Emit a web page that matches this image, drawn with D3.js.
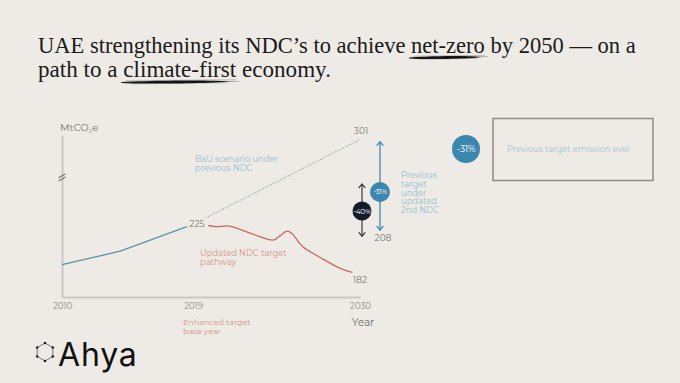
<!DOCTYPE html>
<html>
<head>
<meta charset="utf-8">
<script src="https://cdn.jsdelivr.net/npm/d3@7"></script>
<style>
  html, body { margin: 0; padding: 0; background: #eeebe6; }
  svg { display: block; }
</style>
</head>
<body>
<svg id="chart" width="680" height="383"></svg>
<script>
// ---------- data ----------
const titleLines = ["UAE strengthening its NDC\u2019s to achieve net-zero by 2050 \u2014 on a",
                    "path to a climate-first economy."];
const underlinedWords = ["net-zero", "climate-first"];
const tickYears = [2010, 2019, 2030];
const bauHistYears = [2010, 2014, 2019];
const bauHistValues = [189, 201, 225];
const bauProjYears = [2019, 2030];
const bauProjValues = [225, 301];
const ndcYears = [2020, 2020.5, 2021.4, 2022.4, 2023.4, 2024.3, 2024.7, 2025.2, 2025.5, 2026.2, 2027.6, 2028.7, 2029.5];
const ndcValues = [224, 223, 223.5, 219, 214, 211, 214.5, 219, 217, 205.5, 193.7, 185.6, 182];
const prevArrow = [299, 220];   // previous target arrow extent
const prevBadge = 254;
const newArrow = [261, 214.5];  // updated -40% arrow extent
const newBadge = 237;
const breakValue = 267;
const valueLabels = ["301", "225", "208", "182"];
const badgeLabels = ["-31%", "-40%"];
const legendText = "Previous target emission evel";

// ---------- setup ----------
const svg = d3.select("#chart");
const bg = "#eeebe6";
const blue = "#5b93a9", blueLight = "#93bccd", blueDark = "#3b87ad";
const red = "#c8695f", redLight = "#d6918a";
const navy = "#141c2b";
const axisCol = "#cbc8c3";
const sans = "Montserrat, Inter, 'Open Sans', sans-serif";

const x = d3.scaleLinear().domain([2010, 2019, 2030]).range([62, 193, 360]);
const y = d3.scaleLinear().domain([160, 305]).range([297, 135]);

// ---------- title ----------
const titleWidths = [598, 293];
const titleBase = [52.5, 77];
const titleSize = 23;
titleLines.forEach((txt, li) => {
  const g = svg.append("g").attr("transform", `translate(38,${titleBase[li]})`);
  const t = g.append("text").attr("x", 0).attr("y", 0)
    .attr("font-family", "'Liberation Serif', 'DejaVu Serif', serif").attr("font-size", titleSize)
    .attr("fill", "#1a1a1a").text(txt);
  const nat = t.node().getComputedTextLength();
  const sx = titleWidths[li] / nat;
  t.attr("transform", `scale(${sx},1)`);
  const word = underlinedWords[li];
  const idx = txt.indexOf(word);
  const a = 38 + sx * t.node().getSubStringLength(0, idx);
  const w = sx * t.node().getSubStringLength(idx, word.length);
  brush(a - 2, a + w + 3, titleBase[li] + 4.8);
});

function brush(a, b, yy) {
  const g = svg.append("g");
  const n = 20;
  const top = [], bot = [];
  for (let i = 0; i <= n; i++) {
    const t = i / n;
    const xx = a + (b - a) * t;
    const th = 2.6 * Math.pow(Math.sin(Math.PI * Math.min(1, t * 1.1 + 0.02)), 0.5) + 0.3;
    const c = yy + 0.8 - 1.2 * t;
    top.push([xx, c - th / 2]);
    bot.push([xx, c + th / 2]);
  }
  g.append("path").attr("d", "M" + top.concat(bot.reverse()).join("L") + "Z").attr("fill", "#151515");
  [[-1.6, 0.5, 0.5], [1.5, 0.5, 0.45]].forEach(([dy, sw, op], i) => {
    g.append("path")
      .attr("d", d3.line().curve(d3.curveBasis)([[a + 4 + i * 6, yy + dy + 0.6], [(a + b) / 2, yy + dy], [b - 3 - i * 8, yy + dy - 0.4]]))
      .attr("stroke", "#222").attr("fill", "none").attr("stroke-width", sw).attr("opacity", op);
  });
}

// ---------- axes ----------
const xAxis = d3.axisBottom(x).tickValues(tickYears).tickFormat(d3.format("d")).tickSize(0).tickPadding(6);
const gx = svg.append("g").attr("transform", `translate(0,${y(160)})`).call(xAxis);
gx.select(".domain").attr("stroke", axisCol).attr("stroke-width", 2);
gx.selectAll("text").attr("font-family", sans).attr("font-size", 8.5).attr("fill", "#8a8782");

const yAxis = d3.axisLeft(y).tickValues([]).tickSize(0);
const gy = svg.append("g").attr("transform", `translate(${x(2010)},0)`).call(yAxis);
gy.select(".domain").attr("stroke", axisCol).attr("stroke-width", 2);

// axis break
const by = y(breakValue), bx = x(2010);
[-1.6, 1.6].forEach(d => {
  svg.append("line").attr("x1", bx - 3.5).attr("y1", by + 2 + d).attr("x2", bx + 3.5).attr("y2", by - 2 + d)
    .attr("stroke", "#555").attr("stroke-width", 1);
});

// y label
const yl = svg.append("text").attr("x", 60).attr("y", 131).attr("font-family", sans).attr("font-size", 10).attr("fill", "#7a7772");
yl.append("tspan").text("MtCO");
yl.append("tspan").attr("font-size", 6).attr("dy", 2).text("2");
yl.append("tspan").attr("dy", -2).text("e");

// ---------- lines ----------
const line = d3.line().x(d => x(d[0])).y(d => y(d[1]));
svg.append("path").datum(d3.zip(bauProjYears, bauProjValues)).attr("d", line)
  .attr("fill", "none").attr("stroke", "#8aa1aa").attr("stroke-width", 1.1).attr("stroke-dasharray", "1.2,1.6");
svg.append("path").datum(d3.zip(bauHistYears, bauHistValues)).attr("d", line)
  .attr("fill", "none").attr("stroke", blue).attr("stroke-width", 1.3);
svg.append("path").datum(d3.zip(ndcYears, ndcValues)).attr("d", line.curve(d3.curveCatmullRom.alpha(0.5)))
  .attr("fill", "none").attr("stroke", red).attr("stroke-width", 1.3);

function label(txt, xx, yy, anchor, fill, size, halo) {
  const t = svg.append("text").attr("x", xx).attr("y", yy).attr("text-anchor", anchor || "middle")
    .attr("font-family", sans).attr("font-size", size || 9).attr("fill", fill || "#7a7772").text(txt);
  if (halo) t.attr("stroke", bg).attr("stroke-width", 5).attr("paint-order", "stroke");
  return t;
}
label(valueLabels[1], x(2019) + 4, y(225) + 3, "middle", "#7a7772", 9, true);
label(valueLabels[0], x(2030) + 1, y(301) - 5);
label(valueLabels[3], x(2030), y(182) + 11);

// ---------- arrows ----------
function arrow(xx, v0, v1, color, sw) {
  const ya = y(v0), yb = y(v1);
  const g = svg.append("g").attr("stroke", color).attr("stroke-width", sw).attr("fill", "none").attr("stroke-linecap", "round");
  g.append("line").attr("x1", xx).attr("x2", xx).attr("y1", ya).attr("y2", yb);
  g.append("path").attr("d", `M${xx - 3},${ya + 3.5}L${xx},${ya}L${xx + 3},${ya + 3.5}`);
  g.append("path").attr("d", `M${xx - 3},${yb - 3.5}L${xx},${yb}L${xx + 3},${yb - 3.5}`);
}
const xb = x(2030) + 20, xn = x(2030) + 2;
arrow(xb, prevArrow[0], prevArrow[1], "#4f8fb3", 1.4);
arrow(xn, newArrow[0], newArrow[1], "#2a2a2a", 1.1);
label(valueLabels[2], xb + 3, y(prevArrow[1]) + 11);

function badge(cx, cy, r, fill, txt, size) {
  svg.append("circle").attr("cx", cx).attr("cy", cy).attr("r", r).attr("fill", fill);
  svg.append("text").attr("x", cx).attr("y", cy + size * 0.36).attr("text-anchor", "middle")
    .attr("font-family", sans).attr("font-size", size).attr("letter-spacing", -0.4).attr("fill", "#fff").text(txt);
}
badge(xb, y(prevBadge), 10, blueDark, badgeLabels[0], 7);
badge(xn, y(newBadge), 9.5, navy, badgeLabels[1], 7.5);

// ---------- annotations ----------
function multi(lines, xx, yy, lh, fill, size) {
  lines.forEach((l, i) => label(l, xx, yy + i * lh, "start", fill, size));
}
multi(["BaU scenario under", "previous NDC"], 195, 162, 8.8, blueLight, 8.4);
multi(["Updated NDC target", "pathway"], 200, 256, 8.8, redLight, 8.4);
multi(["Previous", "target", "under", "updated", "2nd NDC"], 401, 178, 8.8, blueLight, 8.4);
multi(["Enhanced target", "base year"], 183, 325, 9, redLight, 8);
label("Year", 363, 326, "middle", "#6f6c68", 10.5);

// ---------- legend ----------
svg.append("rect").attr("x", 493).attr("y", 118.5).attr("width", 160).attr("height", 62)
  .attr("fill", "none").attr("stroke", "#8f8c88").attr("stroke-width", 1.5);
badge(466, 149, 14, blueDark, badgeLabels[0], 9.5);
label(legendText, 507, 152, "start", "#a7c3cf", 8.4);

// ---------- logo ----------
const hx = 45, hy = 352, hr = 9;
const hex = d3.range(6).map(i => [hx + hr * Math.cos(Math.PI / 6 + i * Math.PI / 3), hy + hr * Math.sin(Math.PI / 6 + i * Math.PI / 3)]);
svg.append("path").attr("d", "M" + hex.join("L") + "Z").attr("fill", "none").attr("stroke", "#555").attr("stroke-width", 0.8);
hex.forEach(p => svg.append("circle").attr("cx", p[0]).attr("cy", p[1]).attr("r", 1.3).attr("fill", "#222"));
svg.append("text").attr("x", 58).attr("y", 366).attr("font-family", "Inter, 'Noto Sans', sans-serif")
  .attr("font-size", 32).attr("fill", "#111").attr("letter-spacing", 0.8).text("Ahya");
</script>
</body>
</html>
